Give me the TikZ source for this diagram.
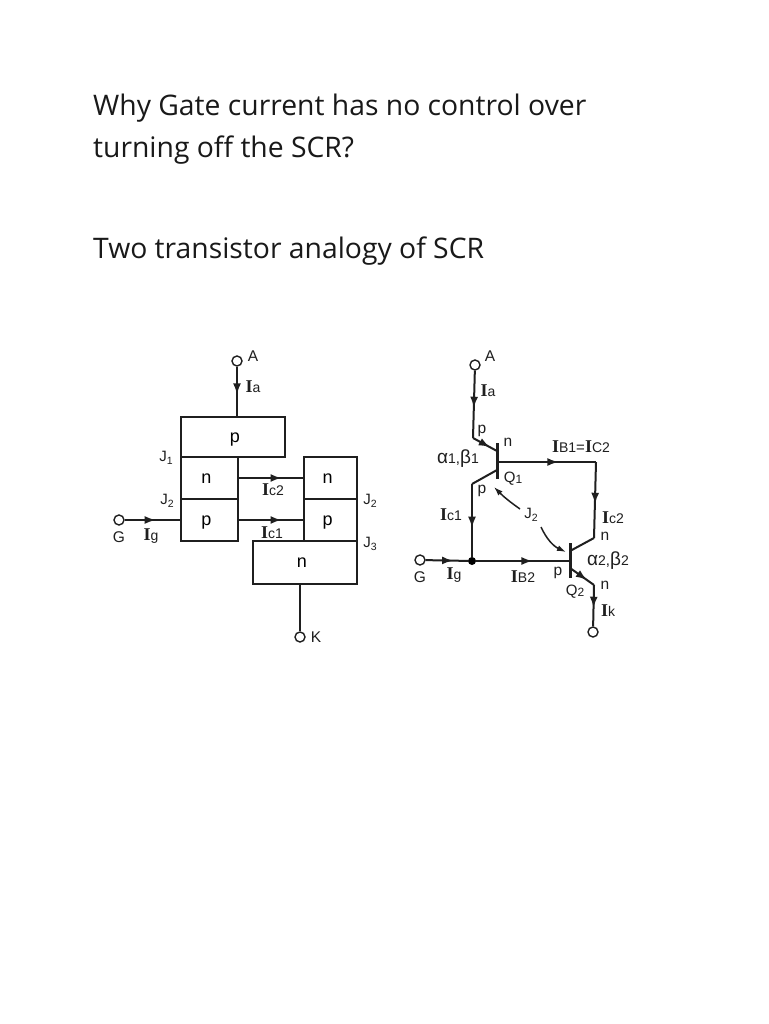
\documentclass[tikz,border=0pt]{standalone}
\usepackage{fontspec}
\setmainfont{Open Sans}
\newfontfamily\lab{Liberation Sans}
\newfontfamily\ser{Liberation Serif}
\usetikzlibrary{arrows.meta,decorations.markings}
\newcommand{\Ii}{{\ser\bfseries\fontsize{18}{18}\selectfont I}}
\newcommand{\Sb}[1]{{\lab\fontsize{14}{14}\selectfont #1}}
\newcommand{\Jn}[1]{{\lab\fontsize{15}{15}\selectfont J\raisebox{-2.5pt}{\fontsize{10.5}{10}\selectfont #1}}}
\newcommand{\Qn}[1]{{\lab\fontsize{15}{15}\selectfont Q\raisebox{-1pt}{\fontsize{12}{12}\selectfont #1}}}
\newcommand{\Gk}[1]{{\lab\fontsize{19}{19}\selectfont #1}}
\newcommand{\Bx}[2]{\makebox[0pt]{\hspace*{#1}\raisebox{-5pt}[0pt][0pt]{#2}}}
\tikzset{
  wire/.style={line width=2pt,draw=black!88},
  marrow/.style={postaction={decorate},decoration={markings,mark=at position #1 with {\arrow{Latex[length=11pt,width=8pt]}}}},
  pbox/.style={draw=black!88,line width=2pt,anchor=north west,inner sep=0pt,outer sep=0pt,font=\lab\fontsize{18}{18}\selectfont},
  term/.style={circle,draw=black!88,line width=1.4pt,fill=white,minimum size=10pt,inner sep=0pt},
  lbl/.style={inner sep=0pt,font=\lab\fontsize{15.5}{15.5}\selectfont,text=black!88},
  small/.style={inner sep=0pt,font=\lab\fontsize{15}{15}\selectfont,text=black!88},
  head/.style={inner sep=0pt,anchor=base west,font=\fontsize{28.3}{30}\selectfont,text=black!90},
  bar/.style={line width=3pt,draw=black!88},
  dot/.style={circle,fill=black,minimum size=8pt,inner sep=0pt}
}
\begin{document}
\begin{tikzpicture}[x=1pt,y=-1pt]
\useasboundingbox[fill=white] (0,0) rectangle (768,1024);
\node[head] (t1) at (93,115.5) {Why Gate current has no control over};
\node[head] (t2) at (93,157.5) {turning off the SCR?};
\node[head] (t3) at (93,258.5) {Two transistor analogy of SCR};
% left structure
\node[pbox,minimum width=104pt,minimum height=40pt] (p1) at (181,417) {\Bx{4pt}{p}};
\node[pbox,minimum width=57pt,minimum height=42pt] (n1) at (181,457) {\Bx{-6pt}{n}};
\node[pbox,minimum width=57pt,minimum height=42pt] (p2) at (181,499) {\Bx{-6pt}{p}};
\node[pbox,minimum width=53pt,minimum height=42pt] (n2) at (304,457) {\Bx{-6pt}{n}};
\node[pbox,minimum width=53pt,minimum height=42pt] (p3) at (304,499) {\Bx{-6pt}{p}};
\node[pbox,minimum width=104pt,minimum height=43pt] (n3) at (253,541) {\Bx{-6pt}{n}};
\node[term] (A) at (237,361) {};
\node[term] (K) at (300,637) {};
\node[term] (G) at (119,520) {};
\coordinate (Ain) at (237,417);
\coordinate (Kin) at (300,584);
\draw[wire,marrow=0.55] (A) -- (Ain);
\draw[wire] (Kin) -- (K);
\draw[wire,marrow=0.55] (G) -- (p2.west);
\draw[wire,marrow=0.66] (n1.east) -- (n2.west);
\draw[wire,marrow=0.66] (p2.east) -- (p3.west);
\node[lbl] (lA) at (253,356) {A};
\node[lbl] (lK) at (316,637) {K};
\node[lbl] (lG) at (119,537) {G};
\node[small] (lIa) at (253,387) {\Ii\Sb{a}};
\node[small] (lIg) at (151,536) {\Ii\Sb{g}};
\node[small] (lIc2) at (273,490) {\Ii\Sb{c2}};
\node[small] (lIc1) at (272,533) {\Ii\Sb{c1}};
\node[small] (lJ1) at (166,458) {\Jn{1}};
\node[small] (lJ2) at (167,501) {\Jn{2}};
\node[small] (lJ2r) at (370,501) {\Jn{2}};
\node[small] (lJ3) at (370,544) {\Jn{3}};
% right circuit
\node[term] (A2) at (475,365) {};
\node[term] (G2) at (420,560) {};
\node[term] (K2) at (593,632) {};
\node[dot] (X) at (472,561) {};
\coordinate (e1a) at (473,438);
\coordinate (e1b) at (497,451);
\coordinate (q1t) at (497,443);
\coordinate (q1b) at (497,479);
\coordinate (b1) at (497,462);
\coordinate (c1a) at (497,470);
\coordinate (c1b) at (472,484);
\coordinate (r1) at (596,462);
\coordinate (r2) at (594,538);
\coordinate (c2b) at (570,551);
\coordinate (q2t) at (570,543);
\coordinate (q2b) at (570,578);
\coordinate (b2) at (570,561);
\coordinate (e2a) at (570,568);
\coordinate (e2b) at (594,585);
\draw[wire,marrow=0.55] (A2) -- (e1a);
\draw[wire,marrow=0.7] (e1a) -- (e1b);
\draw[bar] (q1t) -- (q1b);
\draw[wire] (c1a) -- (c1b);
\draw[wire,marrow=0.6] (c1b) -- (X);
\draw[wire,marrow=0.62] (b1) -- (r1);
\draw[wire,marrow=0.55] (r1) -- (r2);
\draw[wire] (r2) -- (c2b);
\draw[bar] (q2t) -- (q2b);
\draw[wire,marrow=0.65] (G2) -- (X);
\draw[wire,marrow=0.6] (X) -- (b2);
\draw[wire,marrow=0.7] (e2a) -- (e2b);
\draw[wire,marrow=0.55] (e2b) -- (K2);
\coordinate (j2a) at (520,509);
\coordinate (j2b) at (494,487);
\coordinate (j2c) at (541,527);
\coordinate (j2d) at (566,552);
\draw[line width=1.5pt,draw=black!88,-{Latex[length=9pt,width=6pt]}] (j2a) to[bend left=5] (j2b);
\draw[line width=1.5pt,draw=black!88,-{Latex[length=9pt,width=6pt]}] (j2c) to[bend right=20] (j2d);
\node[lbl] (rA) at (490,356) {A};
\node[small] (rIa) at (488,391) {\Ii\Sb{a}};
\node[lbl] (rp1) at (482,431) {p};
\node[lbl] (rn1) at (508,442) {n};
\node[small] (ra1) at (458,459) {\Gk{α}\Sb{1},\Gk{β}\Sb{1}};
\node[lbl] (rQ1) at (513,479) {\Qn{1}};
\node[lbl] (rp2) at (482,491) {p};
\node[small] (rIb) at (581,447) {\Ii\Sb{B1}={\ser\bfseries\fontsize{18}{18}\selectfont I}\Sb{C2}};
\node[small] (rIc1) at (451,515) {\Ii\Sb{c1}};
\node[small] (rJ2) at (531,515) {\Jn{2}};
\node[small] (rIc2) at (613,518) {\Ii\Sb{c2}};
\node[lbl] (rn2) at (605,536) {n};
\node[small] (ra2) at (608,561) {\Gk{α}\Sb{2},\Gk{β}\Sb{2}};
\node[lbl] (rG) at (420,577) {G};
\node[small] (rIg) at (454,575) {\Ii\Sb{g}};
\node[small] (rIb2) at (523,577) {\Ii\Sb{B2}};
\node[lbl] (rp3) at (558,573) {p};
\node[lbl] (rn3) at (605,585) {n};
\node[lbl] (rQ2) at (575,592) {\Qn{2}};
\node[small] (rIk) at (608,611) {\Ii\Sb{k}};
\end{tikzpicture}
\end{document}
